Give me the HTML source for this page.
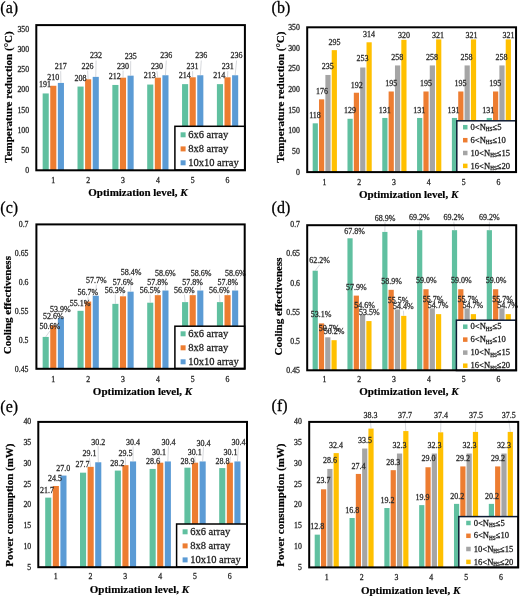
<!DOCTYPE html>
<html lang="en"><head><meta charset="utf-8"><title>Figure</title>
<style>
html,body{margin:0;padding:0;background:#fff}
svg{display:block;font-family:"Liberation Serif", "DejaVu Serif", serif;filter:blur(0.4px)}
</style></head><body>
<svg width="520" height="597" viewBox="0 0 520 597">
<rect width="520" height="597" fill="#fff"/>
<g>
<rect x="42.65" y="93.44" width="6.1" height="76.86" fill="#60C0A0"/>
<rect x="50.25" y="85.76" width="6.1" height="84.54" fill="#ED7D31"/>
<rect x="57.85" y="82.93" width="6.1" height="87.37" fill="#5B9BD5"/>
<rect x="77.5" y="86.57" width="6.1" height="83.73" fill="#60C0A0"/>
<rect x="85.1" y="79.3" width="6.1" height="91" fill="#ED7D31"/>
<rect x="92.7" y="76.87" width="6.1" height="93.43" fill="#5B9BD5"/>
<rect x="112.35" y="84.95" width="6.1" height="85.35" fill="#60C0A0"/>
<rect x="119.95" y="77.68" width="6.1" height="92.62" fill="#ED7D31"/>
<rect x="127.55" y="75.66" width="6.1" height="94.64" fill="#5B9BD5"/>
<rect x="147.2" y="84.55" width="6.1" height="85.75" fill="#60C0A0"/>
<rect x="154.8" y="77.68" width="6.1" height="92.62" fill="#ED7D31"/>
<rect x="162.4" y="75.26" width="6.1" height="95.04" fill="#5B9BD5"/>
<rect x="182.05" y="84.14" width="6.1" height="86.16" fill="#60C0A0"/>
<rect x="189.65" y="77.28" width="6.1" height="93.02" fill="#ED7D31"/>
<rect x="197.25" y="75.26" width="6.1" height="95.04" fill="#5B9BD5"/>
<rect x="216.9" y="84.14" width="6.1" height="86.16" fill="#60C0A0"/>
<rect x="224.5" y="77.28" width="6.1" height="93.02" fill="#ED7D31"/>
<rect x="232.1" y="75.26" width="6.1" height="95.04" fill="#5B9BD5"/>
<line x1="60.7" y1="71.1" x2="60.9" y2="82.93" stroke="#B4B8BE" stroke-width="0.55"/>
<line x1="87.6" y1="70.6" x2="88.15" y2="79.3" stroke="#B4B8BE" stroke-width="0.55"/>
<line x1="96.1" y1="60.5" x2="95.75" y2="76.87" stroke="#B4B8BE" stroke-width="0.55"/>
<line x1="123.1" y1="70.6" x2="123" y2="77.68" stroke="#B4B8BE" stroke-width="0.55"/>
<line x1="130.7" y1="61.1" x2="130.6" y2="75.66" stroke="#B4B8BE" stroke-width="0.55"/>
<line x1="156.9" y1="71.1" x2="157.85" y2="77.68" stroke="#B4B8BE" stroke-width="0.55"/>
<line x1="166.3" y1="60.5" x2="165.45" y2="75.26" stroke="#B4B8BE" stroke-width="0.55"/>
<line x1="192.6" y1="71.1" x2="192.7" y2="77.28" stroke="#B4B8BE" stroke-width="0.55"/>
<line x1="201.3" y1="60.5" x2="200.3" y2="75.26" stroke="#B4B8BE" stroke-width="0.55"/>
<line x1="227.8" y1="71.1" x2="227.55" y2="77.28" stroke="#B4B8BE" stroke-width="0.55"/>
<line x1="236.6" y1="60.5" x2="235.15" y2="75.26" stroke="#B4B8BE" stroke-width="0.55"/>
<text x="45.1" y="87.18" font-size="8.0" text-anchor="middle" fill="#2b2b2b" stroke="#2b2b2b" stroke-width="0.26">191</text>
<text x="53.2" y="80.18" font-size="8.0" text-anchor="middle" fill="#2b2b2b" stroke="#2b2b2b" stroke-width="0.26">210</text>
<text x="60.7" y="69.08" font-size="8.0" text-anchor="middle" fill="#2b2b2b" stroke="#2b2b2b" stroke-width="0.26">217</text>
<text x="80.5" y="80.88" font-size="8.0" text-anchor="middle" fill="#2b2b2b" stroke="#2b2b2b" stroke-width="0.26">208</text>
<text x="87.6" y="68.58" font-size="8.0" text-anchor="middle" fill="#2b2b2b" stroke="#2b2b2b" stroke-width="0.26">226</text>
<text x="96.1" y="58.48" font-size="8.0" text-anchor="middle" fill="#2b2b2b" stroke="#2b2b2b" stroke-width="0.26">232</text>
<text x="114.8" y="78.58" font-size="8.0" text-anchor="middle" fill="#2b2b2b" stroke="#2b2b2b" stroke-width="0.26">212</text>
<text x="123.1" y="68.58" font-size="8.0" text-anchor="middle" fill="#2b2b2b" stroke="#2b2b2b" stroke-width="0.26">230</text>
<text x="130.7" y="59.08" font-size="8.0" text-anchor="middle" fill="#2b2b2b" stroke="#2b2b2b" stroke-width="0.26">235</text>
<text x="149.8" y="78.18" font-size="8.0" text-anchor="middle" fill="#2b2b2b" stroke="#2b2b2b" stroke-width="0.26">213</text>
<text x="156.9" y="69.08" font-size="8.0" text-anchor="middle" fill="#2b2b2b" stroke="#2b2b2b" stroke-width="0.26">230</text>
<text x="166.3" y="58.48" font-size="8.0" text-anchor="middle" fill="#2b2b2b" stroke="#2b2b2b" stroke-width="0.26">236</text>
<text x="184.7" y="78.18" font-size="8.0" text-anchor="middle" fill="#2b2b2b" stroke="#2b2b2b" stroke-width="0.26">214</text>
<text x="192.6" y="69.08" font-size="8.0" text-anchor="middle" fill="#2b2b2b" stroke="#2b2b2b" stroke-width="0.26">231</text>
<text x="201.3" y="58.48" font-size="8.0" text-anchor="middle" fill="#2b2b2b" stroke="#2b2b2b" stroke-width="0.26">236</text>
<text x="219.3" y="78.18" font-size="8.0" text-anchor="middle" fill="#2b2b2b" stroke="#2b2b2b" stroke-width="0.26">214</text>
<text x="227.8" y="69.08" font-size="8.0" text-anchor="middle" fill="#2b2b2b" stroke="#2b2b2b" stroke-width="0.26">231</text>
<text x="236.6" y="58.48" font-size="8.0" text-anchor="middle" fill="#2b2b2b" stroke="#2b2b2b" stroke-width="0.26">236</text>
<rect x="174.9" y="126.3" width="70" height="43.7" fill="#fff" stroke="#000" stroke-width="1.5"/>
<rect x="180.6" y="132.3" width="5.0" height="5.0" fill="#60C0A0"/>
<text x="188.2" y="138.06" font-size="10.5" text-anchor="start" fill="#1a1a1a" stroke="#1a1a1a" stroke-width="0.26">6x6 array</text>
<rect x="180.6" y="146.4" width="5.0" height="5.0" fill="#ED7D31"/>
<text x="188.2" y="152.16" font-size="10.5" text-anchor="start" fill="#1a1a1a" stroke="#1a1a1a" stroke-width="0.26">8x8 array</text>
<rect x="180.6" y="160.3" width="5.0" height="5.0" fill="#5B9BD5"/>
<text x="188.2" y="166.06" font-size="10.5" text-anchor="start" fill="#1a1a1a" stroke="#1a1a1a" stroke-width="0.26">10x10 array</text>
<rect x="36.3" y="25.1" width="208.6" height="145.2" fill="none" stroke="#000" stroke-width="2.0"/>
<text x="29.1" y="173.21" font-size="7.8" text-anchor="end" fill="#262626" stroke="#262626" stroke-width="0.26">0</text>
<text x="29.1" y="153.01" font-size="7.8" text-anchor="end" fill="#262626" stroke="#262626" stroke-width="0.26">50</text>
<text x="29.1" y="132.81" font-size="7.8" text-anchor="end" fill="#262626" stroke="#262626" stroke-width="0.26">100</text>
<text x="29.1" y="112.61" font-size="7.8" text-anchor="end" fill="#262626" stroke="#262626" stroke-width="0.26">150</text>
<text x="29.1" y="92.41" font-size="7.8" text-anchor="end" fill="#262626" stroke="#262626" stroke-width="0.26">200</text>
<text x="29.1" y="72.21" font-size="7.8" text-anchor="end" fill="#262626" stroke="#262626" stroke-width="0.26">250</text>
<text x="29.1" y="52.01" font-size="7.8" text-anchor="end" fill="#262626" stroke="#262626" stroke-width="0.26">300</text>
<text x="29.1" y="31.81" font-size="7.8" text-anchor="end" fill="#262626" stroke="#262626" stroke-width="0.26">350</text>
<text x="53.3" y="183.41" font-size="7.8" text-anchor="middle" fill="#262626" stroke="#262626" stroke-width="0.26">1</text>
<text x="88.15" y="183.41" font-size="7.8" text-anchor="middle" fill="#262626" stroke="#262626" stroke-width="0.26">2</text>
<text x="123" y="183.41" font-size="7.8" text-anchor="middle" fill="#262626" stroke="#262626" stroke-width="0.26">3</text>
<text x="157.85" y="183.41" font-size="7.8" text-anchor="middle" fill="#262626" stroke="#262626" stroke-width="0.26">4</text>
<text x="192.7" y="183.41" font-size="7.8" text-anchor="middle" fill="#262626" stroke="#262626" stroke-width="0.26">5</text>
<text x="227.55" y="183.41" font-size="7.8" text-anchor="middle" fill="#262626" stroke="#262626" stroke-width="0.26">6</text>
<text x="137.9" y="196.2" font-size="11" text-anchor="middle" fill="#000" stroke="#000" stroke-width="0.18" font-weight="bold">Optimization level, <tspan font-style="italic">K</tspan></text>
<text transform="translate(12.2,97) rotate(-90)" font-size="11" text-anchor="middle" font-weight="bold" fill="#000" stroke="#000" stroke-width="0.18">Temperature reduction (°C)</text>
<text x="0.3" y="12.7" font-size="16" text-anchor="start" fill="#000" stroke="#000" stroke-width="0.26">(a)</text>
</g>
<g>
<rect x="312.68" y="123.32" width="5.2" height="48.78" fill="#60C0A0"/>
<rect x="319.02" y="99.34" width="5.2" height="72.76" fill="#ED7D31"/>
<rect x="325.38" y="74.95" width="5.2" height="97.15" fill="#A5A5A5"/>
<rect x="331.72" y="50.15" width="5.2" height="121.95" fill="#FFC000"/>
<rect x="347.48" y="118.77" width="5.2" height="53.33" fill="#60C0A0"/>
<rect x="353.82" y="92.73" width="5.2" height="79.37" fill="#ED7D31"/>
<rect x="360.18" y="67.51" width="5.2" height="104.59" fill="#A5A5A5"/>
<rect x="366.52" y="42.29" width="5.2" height="129.81" fill="#FFC000"/>
<rect x="382.27" y="117.94" width="5.2" height="54.16" fill="#60C0A0"/>
<rect x="388.62" y="91.49" width="5.2" height="80.61" fill="#ED7D31"/>
<rect x="394.97" y="65.44" width="5.2" height="106.66" fill="#A5A5A5"/>
<rect x="401.32" y="39.81" width="5.2" height="132.29" fill="#FFC000"/>
<rect x="417.07" y="117.94" width="5.2" height="54.16" fill="#60C0A0"/>
<rect x="423.42" y="91.49" width="5.2" height="80.61" fill="#ED7D31"/>
<rect x="429.77" y="65.44" width="5.2" height="106.66" fill="#A5A5A5"/>
<rect x="436.12" y="39.4" width="5.2" height="132.7" fill="#FFC000"/>
<rect x="451.88" y="117.94" width="5.2" height="54.16" fill="#60C0A0"/>
<rect x="458.22" y="91.49" width="5.2" height="80.61" fill="#ED7D31"/>
<rect x="464.57" y="65.44" width="5.2" height="106.66" fill="#A5A5A5"/>
<rect x="470.92" y="39.4" width="5.2" height="132.7" fill="#FFC000"/>
<rect x="486.68" y="117.94" width="5.2" height="54.16" fill="#60C0A0"/>
<rect x="493.02" y="91.49" width="5.2" height="80.61" fill="#ED7D31"/>
<rect x="499.38" y="65.44" width="5.2" height="106.66" fill="#A5A5A5"/>
<rect x="505.72" y="39.4" width="5.2" height="132.7" fill="#FFC000"/>
<text x="315" y="118.18" font-size="8.0" text-anchor="middle" fill="#2b2b2b" stroke="#2b2b2b" stroke-width="0.26">118</text>
<text x="321.9" y="93.88" font-size="8.0" text-anchor="middle" fill="#2b2b2b" stroke="#2b2b2b" stroke-width="0.26">176</text>
<text x="327.8" y="69.38" font-size="8.0" text-anchor="middle" fill="#2b2b2b" stroke="#2b2b2b" stroke-width="0.26">235</text>
<text x="334.4" y="44.58" font-size="8.0" text-anchor="middle" fill="#2b2b2b" stroke="#2b2b2b" stroke-width="0.26">295</text>
<text x="350" y="113.38" font-size="8.0" text-anchor="middle" fill="#2b2b2b" stroke="#2b2b2b" stroke-width="0.26">129</text>
<text x="356.8" y="87.58" font-size="8.0" text-anchor="middle" fill="#2b2b2b" stroke="#2b2b2b" stroke-width="0.26">192</text>
<text x="362.6" y="61.48" font-size="8.0" text-anchor="middle" fill="#2b2b2b" stroke="#2b2b2b" stroke-width="0.26">253</text>
<text x="369" y="37.18" font-size="8.0" text-anchor="middle" fill="#2b2b2b" stroke="#2b2b2b" stroke-width="0.26">314</text>
<text x="384.8" y="113.38" font-size="8.0" text-anchor="middle" fill="#2b2b2b" stroke="#2b2b2b" stroke-width="0.26">131</text>
<text x="391.2" y="86.28" font-size="8.0" text-anchor="middle" fill="#2b2b2b" stroke="#2b2b2b" stroke-width="0.26">195</text>
<text x="397.3" y="60.28" font-size="8.0" text-anchor="middle" fill="#2b2b2b" stroke="#2b2b2b" stroke-width="0.26">258</text>
<text x="403.9" y="37.58" font-size="8.0" text-anchor="middle" fill="#2b2b2b" stroke="#2b2b2b" stroke-width="0.26">320</text>
<text x="419.3" y="112.88" font-size="8.0" text-anchor="middle" fill="#2b2b2b" stroke="#2b2b2b" stroke-width="0.26">131</text>
<text x="425.9" y="86.08" font-size="8.0" text-anchor="middle" fill="#2b2b2b" stroke="#2b2b2b" stroke-width="0.26">195</text>
<text x="432.1" y="60.28" font-size="8.0" text-anchor="middle" fill="#2b2b2b" stroke="#2b2b2b" stroke-width="0.26">258</text>
<text x="437.9" y="37.68" font-size="8.0" text-anchor="middle" fill="#2b2b2b" stroke="#2b2b2b" stroke-width="0.26">321</text>
<text x="453.6" y="112.88" font-size="8.0" text-anchor="middle" fill="#2b2b2b" stroke="#2b2b2b" stroke-width="0.26">131</text>
<text x="460.4" y="86.08" font-size="8.0" text-anchor="middle" fill="#2b2b2b" stroke="#2b2b2b" stroke-width="0.26">195</text>
<text x="466.6" y="60.28" font-size="8.0" text-anchor="middle" fill="#2b2b2b" stroke="#2b2b2b" stroke-width="0.26">258</text>
<text x="471.6" y="37.68" font-size="8.0" text-anchor="middle" fill="#2b2b2b" stroke="#2b2b2b" stroke-width="0.26">321</text>
<text x="488.3" y="112.88" font-size="8.0" text-anchor="middle" fill="#2b2b2b" stroke="#2b2b2b" stroke-width="0.26">131</text>
<text x="495.2" y="86.08" font-size="8.0" text-anchor="middle" fill="#2b2b2b" stroke="#2b2b2b" stroke-width="0.26">195</text>
<text x="501.6" y="60.28" font-size="8.0" text-anchor="middle" fill="#2b2b2b" stroke="#2b2b2b" stroke-width="0.26">258</text>
<text x="508.4" y="37.68" font-size="8.0" text-anchor="middle" fill="#2b2b2b" stroke="#2b2b2b" stroke-width="0.26">321</text>
<rect x="456.8" y="120.8" width="59.25" height="51.3" fill="#fff" stroke="#0d1b33" stroke-width="1.5"/>
<rect x="463" y="124.95" width="4.5" height="4.5" fill="#60C0A0"/>
<text x="470.5" y="129.87" font-size="8.6" text-anchor="start" fill="#1a1a1a" stroke="#1a1a1a" stroke-width="0.26">0&lt;N<tspan font-size="5.2" dy="1.6">HS</tspan><tspan dy="-1.6">≤5</tspan></text>
<rect x="463" y="137.95" width="4.5" height="4.5" fill="#ED7D31"/>
<text x="470.5" y="142.87" font-size="8.6" text-anchor="start" fill="#1a1a1a" stroke="#1a1a1a" stroke-width="0.26">6&lt;N<tspan font-size="5.2" dy="1.6">HS</tspan><tspan dy="-1.6">≤10</tspan></text>
<rect x="463" y="150.75" width="4.5" height="4.5" fill="#A5A5A5"/>
<text x="470.5" y="155.67" font-size="8.6" text-anchor="start" fill="#1a1a1a" stroke="#1a1a1a" stroke-width="0.26">10&lt;N<tspan font-size="5.2" dy="1.6">HS</tspan><tspan dy="-1.6">≤15</tspan></text>
<rect x="463" y="163.65" width="4.5" height="4.5" fill="#FFC000"/>
<text x="470.5" y="168.57" font-size="8.6" text-anchor="start" fill="#1a1a1a" stroke="#1a1a1a" stroke-width="0.26">16&lt;N<tspan font-size="5.2" dy="1.6">HS</tspan><tspan dy="-1.6">≤20</tspan></text>
<rect x="307.2" y="27.3" width="208.85" height="144.8" fill="none" stroke="#000" stroke-width="2.0"/>
<text x="299.9" y="174.71" font-size="7.8" text-anchor="end" fill="#262626" stroke="#262626" stroke-width="0.26">0</text>
<text x="299.9" y="154.04" font-size="7.8" text-anchor="end" fill="#262626" stroke="#262626" stroke-width="0.26">50</text>
<text x="299.9" y="133.37" font-size="7.8" text-anchor="end" fill="#262626" stroke="#262626" stroke-width="0.26">100</text>
<text x="299.9" y="112.7" font-size="7.8" text-anchor="end" fill="#262626" stroke="#262626" stroke-width="0.26">150</text>
<text x="299.9" y="92.03" font-size="7.8" text-anchor="end" fill="#262626" stroke="#262626" stroke-width="0.26">200</text>
<text x="299.9" y="71.36" font-size="7.8" text-anchor="end" fill="#262626" stroke="#262626" stroke-width="0.26">250</text>
<text x="299.9" y="50.69" font-size="7.8" text-anchor="end" fill="#262626" stroke="#262626" stroke-width="0.26">300</text>
<text x="299.9" y="30.02" font-size="7.8" text-anchor="end" fill="#262626" stroke="#262626" stroke-width="0.26">350</text>
<text x="324.4" y="185.01" font-size="7.8" text-anchor="middle" fill="#262626" stroke="#262626" stroke-width="0.26">1</text>
<text x="359.2" y="185.01" font-size="7.8" text-anchor="middle" fill="#262626" stroke="#262626" stroke-width="0.26">2</text>
<text x="394" y="185.01" font-size="7.8" text-anchor="middle" fill="#262626" stroke="#262626" stroke-width="0.26">3</text>
<text x="428.8" y="185.01" font-size="7.8" text-anchor="middle" fill="#262626" stroke="#262626" stroke-width="0.26">4</text>
<text x="463.6" y="185.01" font-size="7.8" text-anchor="middle" fill="#262626" stroke="#262626" stroke-width="0.26">5</text>
<text x="498.4" y="185.01" font-size="7.8" text-anchor="middle" fill="#262626" stroke="#262626" stroke-width="0.26">6</text>
<text x="408.6" y="198" font-size="11" text-anchor="middle" fill="#000" stroke="#000" stroke-width="0.18" font-weight="bold">Optimization level, <tspan font-style="italic">K</tspan></text>
<text transform="translate(283.7,97.2) rotate(-90)" font-size="11" text-anchor="middle" font-weight="bold" fill="#000" stroke="#000" stroke-width="0.18">Temperature reduction (°C)</text>
<text x="271.6" y="12.7" font-size="16" text-anchor="start" fill="#000" stroke="#000" stroke-width="0.26">(b)</text>
</g>
<g>
<rect x="42.65" y="336.92" width="6.1" height="31.88" fill="#60C0A0"/>
<rect x="50.25" y="325.32" width="6.1" height="43.48" fill="#ED7D31"/>
<rect x="57.85" y="317.78" width="6.1" height="51.02" fill="#5B9BD5"/>
<rect x="77.5" y="310.82" width="6.1" height="57.98" fill="#60C0A0"/>
<rect x="85.1" y="301.54" width="6.1" height="67.26" fill="#ED7D31"/>
<rect x="92.7" y="295.74" width="6.1" height="73.06" fill="#5B9BD5"/>
<rect x="112.35" y="303.86" width="6.1" height="64.94" fill="#60C0A0"/>
<rect x="119.95" y="296.32" width="6.1" height="72.48" fill="#ED7D31"/>
<rect x="127.55" y="291.68" width="6.1" height="77.12" fill="#5B9BD5"/>
<rect x="147.2" y="302.7" width="6.1" height="66.1" fill="#60C0A0"/>
<rect x="154.8" y="295.16" width="6.1" height="73.64" fill="#ED7D31"/>
<rect x="162.4" y="290.52" width="6.1" height="78.28" fill="#5B9BD5"/>
<rect x="182.05" y="302.12" width="6.1" height="66.68" fill="#60C0A0"/>
<rect x="189.65" y="295.16" width="6.1" height="73.64" fill="#ED7D31"/>
<rect x="197.25" y="290.52" width="6.1" height="78.28" fill="#5B9BD5"/>
<rect x="216.9" y="302.12" width="6.1" height="66.68" fill="#60C0A0"/>
<rect x="224.5" y="295.16" width="6.1" height="73.64" fill="#ED7D31"/>
<rect x="232.1" y="290.52" width="6.1" height="78.28" fill="#5B9BD5"/>
<line x1="49.9" y1="331" x2="45.7" y2="336.92" stroke="#B4B8BE" stroke-width="0.55"/>
<line x1="87.9" y1="296.7" x2="88.15" y2="301.54" stroke="#B4B8BE" stroke-width="0.55"/>
<line x1="96.3" y1="284.6" x2="95.75" y2="295.74" stroke="#B4B8BE" stroke-width="0.55"/>
<line x1="115.2" y1="294.6" x2="115.4" y2="303.86" stroke="#B4B8BE" stroke-width="0.55"/>
<line x1="123.1" y1="286.8" x2="123" y2="296.32" stroke="#B4B8BE" stroke-width="0.55"/>
<line x1="131" y1="276.6" x2="130.6" y2="291.68" stroke="#B4B8BE" stroke-width="0.55"/>
<line x1="150" y1="294.6" x2="150.25" y2="302.7" stroke="#B4B8BE" stroke-width="0.55"/>
<line x1="157.7" y1="286.8" x2="157.85" y2="295.16" stroke="#B4B8BE" stroke-width="0.55"/>
<line x1="165.4" y1="277.7" x2="165.45" y2="290.52" stroke="#B4B8BE" stroke-width="0.55"/>
<line x1="184.4" y1="294.6" x2="185.1" y2="302.12" stroke="#B4B8BE" stroke-width="0.55"/>
<line x1="192.6" y1="286.8" x2="192.7" y2="295.16" stroke="#B4B8BE" stroke-width="0.55"/>
<line x1="201" y1="277.7" x2="200.3" y2="290.52" stroke="#B4B8BE" stroke-width="0.55"/>
<line x1="219.3" y1="294.6" x2="219.95" y2="302.12" stroke="#B4B8BE" stroke-width="0.55"/>
<line x1="227.8" y1="286.8" x2="227.55" y2="295.16" stroke="#B4B8BE" stroke-width="0.55"/>
<line x1="235.4" y1="277.7" x2="235.15" y2="290.52" stroke="#B4B8BE" stroke-width="0.55"/>
<text x="49.9" y="329.48" font-size="8.0" text-anchor="middle" fill="#2b2b2b" stroke="#2b2b2b" stroke-width="0.26">50.6%</text>
<text x="53.3" y="319.08" font-size="8.0" text-anchor="middle" fill="#2b2b2b" stroke="#2b2b2b" stroke-width="0.26">52.6%</text>
<text x="60.4" y="311.68" font-size="8.0" text-anchor="middle" fill="#2b2b2b" stroke="#2b2b2b" stroke-width="0.26">53.9%</text>
<text x="80" y="305.78" font-size="8.0" text-anchor="middle" fill="#2b2b2b" stroke="#2b2b2b" stroke-width="0.26">55.1%</text>
<text x="87.9" y="295.18" font-size="8.0" text-anchor="middle" fill="#2b2b2b" stroke="#2b2b2b" stroke-width="0.26">56.7%</text>
<text x="96.3" y="283.08" font-size="8.0" text-anchor="middle" fill="#2b2b2b" stroke="#2b2b2b" stroke-width="0.26">57.7%</text>
<text x="115.2" y="293.08" font-size="8.0" text-anchor="middle" fill="#2b2b2b" stroke="#2b2b2b" stroke-width="0.26">56.3%</text>
<text x="123.1" y="285.28" font-size="8.0" text-anchor="middle" fill="#2b2b2b" stroke="#2b2b2b" stroke-width="0.26">57.6%</text>
<text x="131" y="275.08" font-size="8.0" text-anchor="middle" fill="#2b2b2b" stroke="#2b2b2b" stroke-width="0.26">58.4%</text>
<text x="150" y="293.08" font-size="8.0" text-anchor="middle" fill="#2b2b2b" stroke="#2b2b2b" stroke-width="0.26">56.5%</text>
<text x="157.7" y="285.28" font-size="8.0" text-anchor="middle" fill="#2b2b2b" stroke="#2b2b2b" stroke-width="0.26">57.8%</text>
<text x="165.4" y="276.18" font-size="8.0" text-anchor="middle" fill="#2b2b2b" stroke="#2b2b2b" stroke-width="0.26">58.6%</text>
<text x="184.4" y="293.08" font-size="8.0" text-anchor="middle" fill="#2b2b2b" stroke="#2b2b2b" stroke-width="0.26">56.6%</text>
<text x="192.6" y="285.28" font-size="8.0" text-anchor="middle" fill="#2b2b2b" stroke="#2b2b2b" stroke-width="0.26">57.8%</text>
<text x="201" y="276.18" font-size="8.0" text-anchor="middle" fill="#2b2b2b" stroke="#2b2b2b" stroke-width="0.26">58.6%</text>
<text x="219.3" y="293.08" font-size="8.0" text-anchor="middle" fill="#2b2b2b" stroke="#2b2b2b" stroke-width="0.26">56.6%</text>
<text x="227.8" y="285.28" font-size="8.0" text-anchor="middle" fill="#2b2b2b" stroke="#2b2b2b" stroke-width="0.26">57.8%</text>
<text x="235.4" y="276.18" font-size="8.0" text-anchor="middle" fill="#2b2b2b" stroke="#2b2b2b" stroke-width="0.26">58.6%</text>
<rect x="174.9" y="326.2" width="69.8" height="42.3" fill="#fff" stroke="#000" stroke-width="1.5"/>
<rect x="180.6" y="331.3" width="5.0" height="5.0" fill="#60C0A0"/>
<text x="188.2" y="337.06" font-size="10.5" text-anchor="start" fill="#1a1a1a" stroke="#1a1a1a" stroke-width="0.26">6x6 array</text>
<rect x="180.6" y="345.3" width="5.0" height="5.0" fill="#ED7D31"/>
<text x="188.2" y="351.06" font-size="10.5" text-anchor="start" fill="#1a1a1a" stroke="#1a1a1a" stroke-width="0.26">8x8 array</text>
<rect x="180.6" y="359.3" width="5.0" height="5.0" fill="#5B9BD5"/>
<text x="188.2" y="365.06" font-size="10.5" text-anchor="start" fill="#1a1a1a" stroke="#1a1a1a" stroke-width="0.26">10x10 array</text>
<rect x="36.4" y="224.4" width="208.3" height="144.4" fill="none" stroke="#000" stroke-width="2.0"/>
<text x="28.5" y="372.01" font-size="7.8" text-anchor="end" fill="#262626" stroke="#262626" stroke-width="0.26">0.45</text>
<text x="28.5" y="343.01" font-size="7.8" text-anchor="end" fill="#262626" stroke="#262626" stroke-width="0.26">0.5</text>
<text x="28.5" y="314.01" font-size="7.8" text-anchor="end" fill="#262626" stroke="#262626" stroke-width="0.26">0.55</text>
<text x="28.5" y="285.01" font-size="7.8" text-anchor="end" fill="#262626" stroke="#262626" stroke-width="0.26">0.6</text>
<text x="28.5" y="256.01" font-size="7.8" text-anchor="end" fill="#262626" stroke="#262626" stroke-width="0.26">0.65</text>
<text x="28.5" y="227.01" font-size="7.8" text-anchor="end" fill="#262626" stroke="#262626" stroke-width="0.26">0.7</text>
<text x="53.3" y="381.71" font-size="7.8" text-anchor="middle" fill="#262626" stroke="#262626" stroke-width="0.26">1</text>
<text x="88.15" y="381.71" font-size="7.8" text-anchor="middle" fill="#262626" stroke="#262626" stroke-width="0.26">2</text>
<text x="123" y="381.71" font-size="7.8" text-anchor="middle" fill="#262626" stroke="#262626" stroke-width="0.26">3</text>
<text x="157.85" y="381.71" font-size="7.8" text-anchor="middle" fill="#262626" stroke="#262626" stroke-width="0.26">4</text>
<text x="192.7" y="381.71" font-size="7.8" text-anchor="middle" fill="#262626" stroke="#262626" stroke-width="0.26">5</text>
<text x="227.55" y="381.71" font-size="7.8" text-anchor="middle" fill="#262626" stroke="#262626" stroke-width="0.26">6</text>
<text x="142.5" y="394.5" font-size="11" text-anchor="middle" fill="#000" stroke="#000" stroke-width="0.18" font-weight="bold">Optimization level, <tspan font-style="italic">K</tspan></text>
<text transform="translate(11.2,305.1) rotate(-90)" font-size="11" text-anchor="middle" font-weight="bold" fill="#000" stroke="#000" stroke-width="0.18">Cooling effectiveness</text>
<text x="0.3" y="213.4" font-size="16" text-anchor="start" fill="#000" stroke="#000" stroke-width="0.26">(c)</text>
</g>
<g>
<rect x="312.6" y="270.71" width="5.2" height="99.59" fill="#60C0A0"/>
<rect x="318.9" y="323.4" width="5.2" height="46.9" fill="#ED7D31"/>
<rect x="325.2" y="337.3" width="5.2" height="33" fill="#A5A5A5"/>
<rect x="331.5" y="340.19" width="5.2" height="30.11" fill="#FFC000"/>
<rect x="347.43" y="238.29" width="5.2" height="132.01" fill="#60C0A0"/>
<rect x="353.73" y="295.61" width="5.2" height="74.69" fill="#ED7D31"/>
<rect x="360.03" y="314.72" width="5.2" height="55.58" fill="#A5A5A5"/>
<rect x="366.33" y="321.08" width="5.2" height="49.22" fill="#FFC000"/>
<rect x="382.26" y="231.92" width="5.2" height="138.38" fill="#60C0A0"/>
<rect x="388.56" y="289.82" width="5.2" height="80.48" fill="#ED7D31"/>
<rect x="394.86" y="309.5" width="5.2" height="60.8" fill="#A5A5A5"/>
<rect x="401.16" y="315.87" width="5.2" height="54.43" fill="#FFC000"/>
<rect x="417.09" y="230.18" width="5.2" height="140.12" fill="#60C0A0"/>
<rect x="423.39" y="289.24" width="5.2" height="81.06" fill="#ED7D31"/>
<rect x="429.69" y="308.35" width="5.2" height="61.95" fill="#A5A5A5"/>
<rect x="435.99" y="314.14" width="5.2" height="56.16" fill="#FFC000"/>
<rect x="451.92" y="230.18" width="5.2" height="140.12" fill="#60C0A0"/>
<rect x="458.22" y="289.24" width="5.2" height="81.06" fill="#ED7D31"/>
<rect x="464.52" y="308.35" width="5.2" height="61.95" fill="#A5A5A5"/>
<rect x="470.82" y="314.14" width="5.2" height="56.16" fill="#FFC000"/>
<rect x="486.75" y="230.18" width="5.2" height="140.12" fill="#60C0A0"/>
<rect x="493.05" y="289.24" width="5.2" height="81.06" fill="#ED7D31"/>
<rect x="499.35" y="308.35" width="5.2" height="61.95" fill="#A5A5A5"/>
<rect x="505.65" y="314.14" width="5.2" height="56.16" fill="#FFC000"/>
<line x1="319.7" y1="264.8" x2="315.2" y2="270.71" stroke="#B4B8BE" stroke-width="0.55"/>
<line x1="385" y1="222.1" x2="384.86" y2="231.92" stroke="#B4B8BE" stroke-width="0.55"/>
<line x1="398" y1="304.7" x2="397.46" y2="309.5" stroke="#B4B8BE" stroke-width="0.55"/>
<line x1="403.4" y1="310.7" x2="403.76" y2="315.87" stroke="#B4B8BE" stroke-width="0.55"/>
<line x1="419.4" y1="221.8" x2="419.69" y2="230.18" stroke="#B4B8BE" stroke-width="0.55"/>
<line x1="433" y1="303.2" x2="432.29" y2="308.35" stroke="#B4B8BE" stroke-width="0.55"/>
<line x1="453.8" y1="221.8" x2="454.52" y2="230.18" stroke="#B4B8BE" stroke-width="0.55"/>
<line x1="467.8" y1="303.2" x2="467.12" y2="308.35" stroke="#B4B8BE" stroke-width="0.55"/>
<line x1="489.4" y1="221.8" x2="489.35" y2="230.18" stroke="#B4B8BE" stroke-width="0.55"/>
<line x1="502.5" y1="303.2" x2="501.95" y2="308.35" stroke="#B4B8BE" stroke-width="0.55"/>
<text x="319.7" y="263.28" font-size="8.0" text-anchor="middle" fill="#2b2b2b" stroke="#2b2b2b" stroke-width="0.26">62.2%</text>
<text x="321.1" y="317.48" font-size="8.0" text-anchor="middle" fill="#2b2b2b" stroke="#2b2b2b" stroke-width="0.26">53.1%</text>
<text x="329" y="331.28" font-size="8.0" text-anchor="middle" fill="#2b2b2b" stroke="#2b2b2b" stroke-width="0.26">50.7%</text>
<text x="334" y="334.28" font-size="8.0" text-anchor="middle" fill="#2b2b2b" stroke="#2b2b2b" stroke-width="0.26">50.2%</text>
<text x="354.5" y="233.98" font-size="8.0" text-anchor="middle" fill="#2b2b2b" stroke="#2b2b2b" stroke-width="0.26">67.8%</text>
<text x="356.3" y="289.78" font-size="8.0" text-anchor="middle" fill="#2b2b2b" stroke="#2b2b2b" stroke-width="0.26">57.9%</text>
<text x="364.5" y="308.48" font-size="8.0" text-anchor="middle" fill="#2b2b2b" stroke="#2b2b2b" stroke-width="0.26">54.6%</text>
<text x="369.4" y="315.08" font-size="8.0" text-anchor="middle" fill="#2b2b2b" stroke="#2b2b2b" stroke-width="0.26">53.5%</text>
<text x="385" y="220.58" font-size="8.0" text-anchor="middle" fill="#2b2b2b" stroke="#2b2b2b" stroke-width="0.26">68.9%</text>
<text x="391.5" y="283.88" font-size="8.0" text-anchor="middle" fill="#2b2b2b" stroke="#2b2b2b" stroke-width="0.26">58.9%</text>
<text x="398" y="303.18" font-size="8.0" text-anchor="middle" fill="#2b2b2b" stroke="#2b2b2b" stroke-width="0.26">55.5%</text>
<text x="403.4" y="309.18" font-size="8.0" text-anchor="middle" fill="#2b2b2b" stroke="#2b2b2b" stroke-width="0.26">54.4%</text>
<text x="419.4" y="220.28" font-size="8.0" text-anchor="middle" fill="#2b2b2b" stroke="#2b2b2b" stroke-width="0.26">69.2%</text>
<text x="426.4" y="283.18" font-size="8.0" text-anchor="middle" fill="#2b2b2b" stroke="#2b2b2b" stroke-width="0.26">59.0%</text>
<text x="433" y="301.68" font-size="8.0" text-anchor="middle" fill="#2b2b2b" stroke="#2b2b2b" stroke-width="0.26">55.7%</text>
<text x="438.1" y="308.18" font-size="8.0" text-anchor="middle" fill="#2b2b2b" stroke="#2b2b2b" stroke-width="0.26">54.7%</text>
<text x="453.8" y="220.28" font-size="8.0" text-anchor="middle" fill="#2b2b2b" stroke="#2b2b2b" stroke-width="0.26">69.2%</text>
<text x="461.4" y="283.18" font-size="8.0" text-anchor="middle" fill="#2b2b2b" stroke="#2b2b2b" stroke-width="0.26">59.0%</text>
<text x="467.8" y="301.68" font-size="8.0" text-anchor="middle" fill="#2b2b2b" stroke="#2b2b2b" stroke-width="0.26">55.7%</text>
<text x="472.9" y="308.18" font-size="8.0" text-anchor="middle" fill="#2b2b2b" stroke="#2b2b2b" stroke-width="0.26">54.7%</text>
<text x="489.4" y="220.28" font-size="8.0" text-anchor="middle" fill="#2b2b2b" stroke="#2b2b2b" stroke-width="0.26">69.2%</text>
<text x="496.1" y="283.18" font-size="8.0" text-anchor="middle" fill="#2b2b2b" stroke="#2b2b2b" stroke-width="0.26">59.0%</text>
<text x="502.5" y="301.68" font-size="8.0" text-anchor="middle" fill="#2b2b2b" stroke="#2b2b2b" stroke-width="0.26">55.7%</text>
<text x="507.6" y="308.18" font-size="8.0" text-anchor="middle" fill="#2b2b2b" stroke="#2b2b2b" stroke-width="0.26">54.7%</text>
<rect x="456.4" y="320.2" width="59.8" height="50.3" fill="#fff" stroke="#0d1b33" stroke-width="1.5"/>
<rect x="463" y="324.45" width="4.5" height="4.5" fill="#60C0A0"/>
<text x="470.5" y="329.37" font-size="8.6" text-anchor="start" fill="#1a1a1a" stroke="#1a1a1a" stroke-width="0.26">0&lt;N<tspan font-size="5.2" dy="1.6">HS</tspan><tspan dy="-1.6">≤5</tspan></text>
<rect x="463" y="337.35" width="4.5" height="4.5" fill="#ED7D31"/>
<text x="470.5" y="342.27" font-size="8.6" text-anchor="start" fill="#1a1a1a" stroke="#1a1a1a" stroke-width="0.26">6&lt;N<tspan font-size="5.2" dy="1.6">HS</tspan><tspan dy="-1.6">≤10</tspan></text>
<rect x="463" y="350.35" width="4.5" height="4.5" fill="#A5A5A5"/>
<text x="470.5" y="355.27" font-size="8.6" text-anchor="start" fill="#1a1a1a" stroke="#1a1a1a" stroke-width="0.26">10&lt;N<tspan font-size="5.2" dy="1.6">HS</tspan><tspan dy="-1.6">≤15</tspan></text>
<rect x="463" y="363.45" width="4.5" height="4.5" fill="#FFC000"/>
<text x="470.5" y="368.37" font-size="8.6" text-anchor="start" fill="#1a1a1a" stroke="#1a1a1a" stroke-width="0.26">16&lt;N<tspan font-size="5.2" dy="1.6">HS</tspan><tspan dy="-1.6">≤20</tspan></text>
<rect x="307.2" y="225.2" width="209" height="145.1" fill="none" stroke="#000" stroke-width="2.0"/>
<text x="300" y="373.41" font-size="7.8" text-anchor="end" fill="#262626" stroke="#262626" stroke-width="0.26">0.45</text>
<text x="300" y="344.16" font-size="7.8" text-anchor="end" fill="#262626" stroke="#262626" stroke-width="0.26">0.5</text>
<text x="300" y="314.91" font-size="7.8" text-anchor="end" fill="#262626" stroke="#262626" stroke-width="0.26">0.55</text>
<text x="300" y="285.66" font-size="7.8" text-anchor="end" fill="#262626" stroke="#262626" stroke-width="0.26">0.6</text>
<text x="300" y="256.41" font-size="7.8" text-anchor="end" fill="#262626" stroke="#262626" stroke-width="0.26">0.65</text>
<text x="300" y="227.16" font-size="7.8" text-anchor="end" fill="#262626" stroke="#262626" stroke-width="0.26">0.7</text>
<text x="324.4" y="382.11" font-size="7.8" text-anchor="middle" fill="#262626" stroke="#262626" stroke-width="0.26">1</text>
<text x="359.23" y="382.11" font-size="7.8" text-anchor="middle" fill="#262626" stroke="#262626" stroke-width="0.26">2</text>
<text x="394.06" y="382.11" font-size="7.8" text-anchor="middle" fill="#262626" stroke="#262626" stroke-width="0.26">3</text>
<text x="428.89" y="382.11" font-size="7.8" text-anchor="middle" fill="#262626" stroke="#262626" stroke-width="0.26">4</text>
<text x="463.72" y="382.11" font-size="7.8" text-anchor="middle" fill="#262626" stroke="#262626" stroke-width="0.26">5</text>
<text x="498.55" y="382.11" font-size="7.8" text-anchor="middle" fill="#262626" stroke="#262626" stroke-width="0.26">6</text>
<text x="408.85" y="394.5" font-size="11" text-anchor="middle" fill="#000" stroke="#000" stroke-width="0.18" font-weight="bold">Optimization level, <tspan font-style="italic">K</tspan></text>
<text transform="translate(282.2,306.5) rotate(-90)" font-size="11" text-anchor="middle" font-weight="bold" fill="#000" stroke="#000" stroke-width="0.18">Cooling effectiveness</text>
<text x="271.6" y="213.1" font-size="16" text-anchor="start" fill="#000" stroke="#000" stroke-width="0.26">(d)</text>
</g>
<g>
<rect x="45.2" y="497.63" width="6.1" height="69.57" fill="#60C0A0"/>
<rect x="52.8" y="485.98" width="6.1" height="81.22" fill="#ED7D31"/>
<rect x="60.4" y="475.58" width="6.1" height="91.62" fill="#5B9BD5"/>
<rect x="80" y="472.67" width="6.1" height="94.53" fill="#60C0A0"/>
<rect x="87.6" y="466.84" width="6.1" height="100.36" fill="#ED7D31"/>
<rect x="95.2" y="462.27" width="6.1" height="104.93" fill="#5B9BD5"/>
<rect x="114.8" y="470.59" width="6.1" height="96.61" fill="#60C0A0"/>
<rect x="122.4" y="465.18" width="6.1" height="102.02" fill="#ED7D31"/>
<rect x="130" y="461.44" width="6.1" height="105.76" fill="#5B9BD5"/>
<rect x="149.6" y="468.92" width="6.1" height="98.28" fill="#60C0A0"/>
<rect x="157.2" y="462.68" width="6.1" height="104.52" fill="#ED7D31"/>
<rect x="164.8" y="461.44" width="6.1" height="105.76" fill="#5B9BD5"/>
<rect x="184.4" y="467.68" width="6.1" height="99.52" fill="#60C0A0"/>
<rect x="192" y="462.68" width="6.1" height="104.52" fill="#ED7D31"/>
<rect x="199.6" y="461.44" width="6.1" height="105.76" fill="#5B9BD5"/>
<rect x="219.2" y="468.09" width="6.1" height="99.11" fill="#60C0A0"/>
<rect x="226.8" y="462.68" width="6.1" height="104.52" fill="#ED7D31"/>
<rect x="234.4" y="461.44" width="6.1" height="105.76" fill="#5B9BD5"/>
<line x1="89.4" y1="457.8" x2="90.65" y2="466.84" stroke="#B4B8BE" stroke-width="0.55"/>
<line x1="98.2" y1="446.1" x2="98.25" y2="462.27" stroke="#B4B8BE" stroke-width="0.55"/>
<line x1="125.4" y1="457.3" x2="125.45" y2="465.18" stroke="#B4B8BE" stroke-width="0.55"/>
<line x1="133.1" y1="446.5" x2="133.05" y2="461.44" stroke="#B4B8BE" stroke-width="0.55"/>
<line x1="159.1" y1="456.2" x2="160.25" y2="462.68" stroke="#B4B8BE" stroke-width="0.55"/>
<line x1="168.5" y1="446.2" x2="167.85" y2="461.44" stroke="#B4B8BE" stroke-width="0.55"/>
<line x1="194.8" y1="456.2" x2="195.05" y2="462.68" stroke="#B4B8BE" stroke-width="0.55"/>
<line x1="203.5" y1="447.2" x2="202.65" y2="461.44" stroke="#B4B8BE" stroke-width="0.55"/>
<line x1="230.4" y1="456.7" x2="229.85" y2="462.68" stroke="#B4B8BE" stroke-width="0.55"/>
<line x1="238.4" y1="446.2" x2="237.45" y2="461.44" stroke="#B4B8BE" stroke-width="0.55"/>
<text x="47.1" y="492.68" font-size="8.0" text-anchor="middle" fill="#2b2b2b" stroke="#2b2b2b" stroke-width="0.26">21.7</text>
<text x="54.9" y="480.58" font-size="8.0" text-anchor="middle" fill="#2b2b2b" stroke="#2b2b2b" stroke-width="0.26">24.5</text>
<text x="63.3" y="470.68" font-size="8.0" text-anchor="middle" fill="#2b2b2b" stroke="#2b2b2b" stroke-width="0.26">27.0</text>
<text x="82.4" y="467.28" font-size="8.0" text-anchor="middle" fill="#2b2b2b" stroke="#2b2b2b" stroke-width="0.26">27.7</text>
<text x="89.4" y="456.28" font-size="8.0" text-anchor="middle" fill="#2b2b2b" stroke="#2b2b2b" stroke-width="0.26">29.1</text>
<text x="98.2" y="444.58" font-size="8.0" text-anchor="middle" fill="#2b2b2b" stroke="#2b2b2b" stroke-width="0.26">30.2</text>
<text x="117.3" y="465.78" font-size="8.0" text-anchor="middle" fill="#2b2b2b" stroke="#2b2b2b" stroke-width="0.26">28.2</text>
<text x="125.4" y="455.78" font-size="8.0" text-anchor="middle" fill="#2b2b2b" stroke="#2b2b2b" stroke-width="0.26">29.5</text>
<text x="133.1" y="444.98" font-size="8.0" text-anchor="middle" fill="#2b2b2b" stroke="#2b2b2b" stroke-width="0.26">30.4</text>
<text x="152.9" y="463.98" font-size="8.0" text-anchor="middle" fill="#2b2b2b" stroke="#2b2b2b" stroke-width="0.26">28.6</text>
<text x="159.1" y="454.68" font-size="8.0" text-anchor="middle" fill="#2b2b2b" stroke="#2b2b2b" stroke-width="0.26">30.1</text>
<text x="168.5" y="444.68" font-size="8.0" text-anchor="middle" fill="#2b2b2b" stroke="#2b2b2b" stroke-width="0.26">30.4</text>
<text x="187.5" y="463.98" font-size="8.0" text-anchor="middle" fill="#2b2b2b" stroke="#2b2b2b" stroke-width="0.26">28.9</text>
<text x="194.8" y="454.68" font-size="8.0" text-anchor="middle" fill="#2b2b2b" stroke="#2b2b2b" stroke-width="0.26">30.1</text>
<text x="203.5" y="445.68" font-size="8.0" text-anchor="middle" fill="#2b2b2b" stroke="#2b2b2b" stroke-width="0.26">30.4</text>
<text x="222.5" y="463.98" font-size="8.0" text-anchor="middle" fill="#2b2b2b" stroke="#2b2b2b" stroke-width="0.26">28.8</text>
<text x="230.4" y="455.18" font-size="8.0" text-anchor="middle" fill="#2b2b2b" stroke="#2b2b2b" stroke-width="0.26">30.1</text>
<text x="238.4" y="444.68" font-size="8.0" text-anchor="middle" fill="#2b2b2b" stroke="#2b2b2b" stroke-width="0.26">30.4</text>
<rect x="176.6" y="524" width="70.4" height="43" fill="#fff" stroke="#000" stroke-width="1.5"/>
<rect x="182.6" y="529.3" width="5.0" height="5.0" fill="#60C0A0"/>
<text x="190.2" y="535.05" font-size="10.5" text-anchor="start" fill="#1a1a1a" stroke="#1a1a1a" stroke-width="0.26">6x6 array</text>
<rect x="182.6" y="543.4" width="5.0" height="5.0" fill="#ED7D31"/>
<text x="190.2" y="549.15" font-size="10.5" text-anchor="start" fill="#1a1a1a" stroke="#1a1a1a" stroke-width="0.26">8x8 array</text>
<rect x="182.6" y="557.4" width="5.0" height="5.0" fill="#5B9BD5"/>
<text x="190.2" y="563.15" font-size="10.5" text-anchor="start" fill="#1a1a1a" stroke="#1a1a1a" stroke-width="0.26">10x10 array</text>
<rect x="38.3" y="421.9" width="208.7" height="145.3" fill="none" stroke="#000" stroke-width="2.0"/>
<text x="31.2" y="569.71" font-size="7.8" text-anchor="end" fill="#262626" stroke="#262626" stroke-width="0.26">5</text>
<text x="31.2" y="548.91" font-size="7.8" text-anchor="end" fill="#262626" stroke="#262626" stroke-width="0.26">10</text>
<text x="31.2" y="528.11" font-size="7.8" text-anchor="end" fill="#262626" stroke="#262626" stroke-width="0.26">15</text>
<text x="31.2" y="507.31" font-size="7.8" text-anchor="end" fill="#262626" stroke="#262626" stroke-width="0.26">20</text>
<text x="31.2" y="486.51" font-size="7.8" text-anchor="end" fill="#262626" stroke="#262626" stroke-width="0.26">25</text>
<text x="31.2" y="465.71" font-size="7.8" text-anchor="end" fill="#262626" stroke="#262626" stroke-width="0.26">30</text>
<text x="31.2" y="444.91" font-size="7.8" text-anchor="end" fill="#262626" stroke="#262626" stroke-width="0.26">35</text>
<text x="31.2" y="424.11" font-size="7.8" text-anchor="end" fill="#262626" stroke="#262626" stroke-width="0.26">40</text>
<text x="55.7" y="579.31" font-size="7.8" text-anchor="middle" fill="#262626" stroke="#262626" stroke-width="0.26">1</text>
<text x="90.5" y="579.31" font-size="7.8" text-anchor="middle" fill="#262626" stroke="#262626" stroke-width="0.26">2</text>
<text x="125.3" y="579.31" font-size="7.8" text-anchor="middle" fill="#262626" stroke="#262626" stroke-width="0.26">3</text>
<text x="160.1" y="579.31" font-size="7.8" text-anchor="middle" fill="#262626" stroke="#262626" stroke-width="0.26">4</text>
<text x="194.9" y="579.31" font-size="7.8" text-anchor="middle" fill="#262626" stroke="#262626" stroke-width="0.26">5</text>
<text x="229.7" y="579.31" font-size="7.8" text-anchor="middle" fill="#262626" stroke="#262626" stroke-width="0.26">6</text>
<text x="139.4" y="592.8" font-size="11" text-anchor="middle" fill="#000" stroke="#000" stroke-width="0.18" font-weight="bold">Optimization level, <tspan font-style="italic">K</tspan></text>
<text transform="translate(13.3,505.1) rotate(-90)" font-size="11" text-anchor="middle" font-weight="bold" fill="#000" stroke="#000" stroke-width="0.18">Power consumption (mW)</text>
<text x="0.3" y="411.5" font-size="16" text-anchor="start" fill="#000" stroke="#000" stroke-width="0.26">(e)</text>
</g>
<g>
<rect x="314.7" y="534.65" width="5.2" height="32.75" fill="#60C0A0"/>
<rect x="321" y="489.31" width="5.2" height="78.09" fill="#ED7D31"/>
<rect x="327.3" y="468.92" width="5.2" height="98.48" fill="#A5A5A5"/>
<rect x="333.6" y="453.12" width="5.2" height="114.28" fill="#FFC000"/>
<rect x="349.52" y="518.01" width="5.2" height="49.39" fill="#60C0A0"/>
<rect x="355.82" y="473.92" width="5.2" height="93.48" fill="#ED7D31"/>
<rect x="362.12" y="448.54" width="5.2" height="118.86" fill="#A5A5A5"/>
<rect x="368.42" y="428.57" width="5.2" height="138.83" fill="#FFC000"/>
<rect x="384.34" y="508.03" width="5.2" height="59.37" fill="#60C0A0"/>
<rect x="390.64" y="470.17" width="5.2" height="97.23" fill="#ED7D31"/>
<rect x="396.94" y="453.53" width="5.2" height="113.87" fill="#A5A5A5"/>
<rect x="403.24" y="431.07" width="5.2" height="136.33" fill="#FFC000"/>
<rect x="419.16" y="505.12" width="5.2" height="62.28" fill="#60C0A0"/>
<rect x="425.46" y="467.26" width="5.2" height="100.14" fill="#ED7D31"/>
<rect x="431.76" y="453.53" width="5.2" height="113.87" fill="#A5A5A5"/>
<rect x="438.06" y="432.32" width="5.2" height="135.08" fill="#FFC000"/>
<rect x="453.98" y="503.87" width="5.2" height="63.53" fill="#60C0A0"/>
<rect x="460.28" y="466.43" width="5.2" height="100.97" fill="#ED7D31"/>
<rect x="466.58" y="453.53" width="5.2" height="113.87" fill="#A5A5A5"/>
<rect x="472.88" y="431.9" width="5.2" height="135.5" fill="#FFC000"/>
<rect x="488.8" y="503.87" width="5.2" height="63.53" fill="#60C0A0"/>
<rect x="495.1" y="466.43" width="5.2" height="100.97" fill="#ED7D31"/>
<rect x="501.4" y="453.53" width="5.2" height="113.87" fill="#A5A5A5"/>
<rect x="507.7" y="431.9" width="5.2" height="135.5" fill="#FFC000"/>
<line x1="370.4" y1="419.4" x2="371.02" y2="428.57" stroke="#B4B8BE" stroke-width="0.55"/>
<line x1="405.1" y1="419.2" x2="405.84" y2="431.07" stroke="#B4B8BE" stroke-width="0.55"/>
<line x1="440.9" y1="419.2" x2="440.66" y2="432.32" stroke="#B4B8BE" stroke-width="0.55"/>
<line x1="475.9" y1="419.2" x2="475.48" y2="431.9" stroke="#B4B8BE" stroke-width="0.55"/>
<line x1="508.7" y1="419.2" x2="510.3" y2="431.9" stroke="#B4B8BE" stroke-width="0.55"/>
<text x="317.2" y="529.18" font-size="8.0" text-anchor="middle" fill="#2b2b2b" stroke="#2b2b2b" stroke-width="0.26">12.8</text>
<text x="323.5" y="483.48" font-size="8.0" text-anchor="middle" fill="#2b2b2b" stroke="#2b2b2b" stroke-width="0.26">23.7</text>
<text x="330.1" y="463.48" font-size="8.0" text-anchor="middle" fill="#2b2b2b" stroke="#2b2b2b" stroke-width="0.26">28.6</text>
<text x="336" y="447.58" font-size="8.0" text-anchor="middle" fill="#2b2b2b" stroke="#2b2b2b" stroke-width="0.26">32.4</text>
<text x="352.3" y="512.68" font-size="8.0" text-anchor="middle" fill="#2b2b2b" stroke="#2b2b2b" stroke-width="0.26">16.8</text>
<text x="358.4" y="469.08" font-size="8.0" text-anchor="middle" fill="#2b2b2b" stroke="#2b2b2b" stroke-width="0.26">27.4</text>
<text x="365.1" y="443.28" font-size="8.0" text-anchor="middle" fill="#2b2b2b" stroke="#2b2b2b" stroke-width="0.26">33.5</text>
<text x="370.4" y="417.88" font-size="8.0" text-anchor="middle" fill="#2b2b2b" stroke="#2b2b2b" stroke-width="0.26">38.3</text>
<text x="387.5" y="503.08" font-size="8.0" text-anchor="middle" fill="#2b2b2b" stroke="#2b2b2b" stroke-width="0.26">19.2</text>
<text x="393.3" y="464.68" font-size="8.0" text-anchor="middle" fill="#2b2b2b" stroke="#2b2b2b" stroke-width="0.26">28.3</text>
<text x="399.5" y="447.98" font-size="8.0" text-anchor="middle" fill="#2b2b2b" stroke="#2b2b2b" stroke-width="0.26">32.3</text>
<text x="405.1" y="417.68" font-size="8.0" text-anchor="middle" fill="#2b2b2b" stroke="#2b2b2b" stroke-width="0.26">37.7</text>
<text x="422.5" y="500.18" font-size="8.0" text-anchor="middle" fill="#2b2b2b" stroke="#2b2b2b" stroke-width="0.26">19.9</text>
<text x="428.4" y="461.48" font-size="8.0" text-anchor="middle" fill="#2b2b2b" stroke="#2b2b2b" stroke-width="0.26">29.0</text>
<text x="434.6" y="447.68" font-size="8.0" text-anchor="middle" fill="#2b2b2b" stroke="#2b2b2b" stroke-width="0.26">32.3</text>
<text x="440.9" y="417.68" font-size="8.0" text-anchor="middle" fill="#2b2b2b" stroke="#2b2b2b" stroke-width="0.26">37.4</text>
<text x="457.3" y="499.18" font-size="8.0" text-anchor="middle" fill="#2b2b2b" stroke="#2b2b2b" stroke-width="0.26">20.2</text>
<text x="462.9" y="461.48" font-size="8.0" text-anchor="middle" fill="#2b2b2b" stroke="#2b2b2b" stroke-width="0.26">29.2</text>
<text x="469.4" y="447.68" font-size="8.0" text-anchor="middle" fill="#2b2b2b" stroke="#2b2b2b" stroke-width="0.26">32.3</text>
<text x="475.9" y="417.68" font-size="8.0" text-anchor="middle" fill="#2b2b2b" stroke="#2b2b2b" stroke-width="0.26">37.5</text>
<text x="492" y="499.18" font-size="8.0" text-anchor="middle" fill="#2b2b2b" stroke="#2b2b2b" stroke-width="0.26">20.2</text>
<text x="497.9" y="461.48" font-size="8.0" text-anchor="middle" fill="#2b2b2b" stroke="#2b2b2b" stroke-width="0.26">29.2</text>
<text x="504.1" y="447.68" font-size="8.0" text-anchor="middle" fill="#2b2b2b" stroke="#2b2b2b" stroke-width="0.26">32.3</text>
<text x="508.7" y="417.68" font-size="8.0" text-anchor="middle" fill="#2b2b2b" stroke="#2b2b2b" stroke-width="0.26">37.5</text>
<rect x="458.8" y="516.6" width="59.4" height="50.8" fill="#fff" stroke="#0d1b33" stroke-width="1.5"/>
<rect x="466.2" y="520.75" width="4.5" height="4.5" fill="#60C0A0"/>
<text x="473.7" y="525.67" font-size="8.6" text-anchor="start" fill="#1a1a1a" stroke="#1a1a1a" stroke-width="0.26">0&lt;N<tspan font-size="5.2" dy="1.6">HS</tspan><tspan dy="-1.6">≤5</tspan></text>
<rect x="466.2" y="533.55" width="4.5" height="4.5" fill="#ED7D31"/>
<text x="473.7" y="538.47" font-size="8.6" text-anchor="start" fill="#1a1a1a" stroke="#1a1a1a" stroke-width="0.26">6&lt;N<tspan font-size="5.2" dy="1.6">HS</tspan><tspan dy="-1.6">≤10</tspan></text>
<rect x="466.2" y="546.75" width="4.5" height="4.5" fill="#A5A5A5"/>
<text x="473.7" y="551.67" font-size="8.6" text-anchor="start" fill="#1a1a1a" stroke="#1a1a1a" stroke-width="0.26">10&lt;N<tspan font-size="5.2" dy="1.6">HS</tspan><tspan dy="-1.6">≤15</tspan></text>
<rect x="466.2" y="559.65" width="4.5" height="4.5" fill="#FFC000"/>
<text x="473.7" y="564.57" font-size="8.6" text-anchor="start" fill="#1a1a1a" stroke="#1a1a1a" stroke-width="0.26">16&lt;N<tspan font-size="5.2" dy="1.6">HS</tspan><tspan dy="-1.6">≤20</tspan></text>
<rect x="309.2" y="421.9" width="209" height="145.5" fill="none" stroke="#000" stroke-width="2.0"/>
<text x="301.9" y="569.71" font-size="7.8" text-anchor="end" fill="#262626" stroke="#262626" stroke-width="0.26">5</text>
<text x="301.9" y="548.91" font-size="7.8" text-anchor="end" fill="#262626" stroke="#262626" stroke-width="0.26">10</text>
<text x="301.9" y="528.11" font-size="7.8" text-anchor="end" fill="#262626" stroke="#262626" stroke-width="0.26">15</text>
<text x="301.9" y="507.31" font-size="7.8" text-anchor="end" fill="#262626" stroke="#262626" stroke-width="0.26">20</text>
<text x="301.9" y="486.51" font-size="7.8" text-anchor="end" fill="#262626" stroke="#262626" stroke-width="0.26">25</text>
<text x="301.9" y="465.71" font-size="7.8" text-anchor="end" fill="#262626" stroke="#262626" stroke-width="0.26">30</text>
<text x="301.9" y="444.91" font-size="7.8" text-anchor="end" fill="#262626" stroke="#262626" stroke-width="0.26">35</text>
<text x="301.9" y="424.11" font-size="7.8" text-anchor="end" fill="#262626" stroke="#262626" stroke-width="0.26">40</text>
<text x="326.8" y="580.01" font-size="7.8" text-anchor="middle" fill="#262626" stroke="#262626" stroke-width="0.26">1</text>
<text x="361.62" y="580.01" font-size="7.8" text-anchor="middle" fill="#262626" stroke="#262626" stroke-width="0.26">2</text>
<text x="396.44" y="580.01" font-size="7.8" text-anchor="middle" fill="#262626" stroke="#262626" stroke-width="0.26">3</text>
<text x="431.26" y="580.01" font-size="7.8" text-anchor="middle" fill="#262626" stroke="#262626" stroke-width="0.26">4</text>
<text x="466.08" y="580.01" font-size="7.8" text-anchor="middle" fill="#262626" stroke="#262626" stroke-width="0.26">5</text>
<text x="500.9" y="580.01" font-size="7.8" text-anchor="middle" fill="#262626" stroke="#262626" stroke-width="0.26">6</text>
<text x="410.6" y="593.5" font-size="11" text-anchor="middle" fill="#000" stroke="#000" stroke-width="0.18" font-weight="bold">Optimization level, <tspan font-style="italic">K</tspan></text>
<text transform="translate(284.4,505.1) rotate(-90)" font-size="11" text-anchor="middle" font-weight="bold" fill="#000" stroke="#000" stroke-width="0.18">Power consumption (mW)</text>
<text x="271.6" y="411.3" font-size="16" text-anchor="start" fill="#000" stroke="#000" stroke-width="0.26">(f)</text>
</g>
</svg>
</body></html>
